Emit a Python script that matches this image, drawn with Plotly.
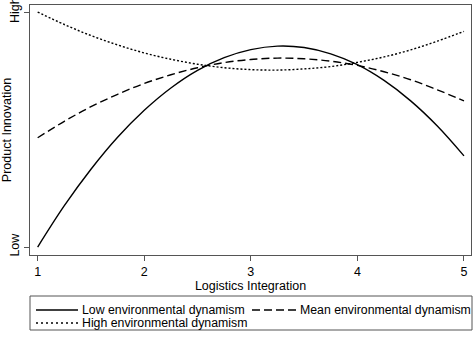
import plotly.graph_objects as go

x_vals = [1, 1.25, 1.5, 1.75, 2, 2.25, 2.5, 2.75, 3, 3.25, 3.5, 3.75, 4, 4.25, 4.5, 4.75, 5]
low_dyn = [0.0, 1.76, 3.31, 4.67, 5.82, 6.77, 7.52, 8.06, 8.40, 8.55, 8.49, 8.22, 7.76, 7.09, 6.22, 5.15, 3.88]
mean_dyn = [4.65, 5.35, 5.97, 6.50, 6.96, 7.33, 7.63, 7.85, 7.98, 8.04, 8.01, 7.91, 7.73, 7.46, 7.12, 6.69, 6.22]
high_dyn = [10.0, 9.47, 9.00, 8.60, 8.26, 7.99, 7.78, 7.63, 7.55, 7.53, 7.58, 7.68, 7.86, 8.09, 8.39, 8.76, 9.18]

series_names = ["Low environmental dynamism", "Mean environmental dynamism", "High environmental dynamism"]
x_ticks = [1, 2, 3, 4, 5]
y_tick_vals = [0, 10]
y_tick_text = ["Low", "High"]

FONT = "Liberation Sans, Arial, sans-serif"
FS = 12.5
FS_LEG = 12.3
W, H = 474, 339
ML, MR, MT, MB = 30, 3, 5, 84
PW, PH = W - ML - MR, H - MT - MB


def px(xp):
    return (xp - ML) / PW


def py(yp):
    return (H - MB - yp) / PH


fig = go.Figure()
styles = ["solid", "8px,4px", "2px,2px"]
for name, ys, dash in zip(series_names, [low_dyn, mean_dyn, high_dyn], styles):
    fig.add_trace(go.Scatter(x=x_vals, y=ys, mode="lines", name=name,
                             line=dict(color="black", width=1.4, dash=dash, shape="spline")))

axis_common = dict(showgrid=False, zeroline=False, showline=True, linecolor="#555555",
                   linewidth=1, mirror=True, ticks="outside", ticklen=5, tickcolor="#555555",
                   tickfont=dict(family=FONT, size=FS, color="black"),
                   ticklabeloverflow="allow", automargin=False)

# manual legend (box, sample lines, labels)
legend_dashes = ["solid", "8px,4px", "2px,3px"]
legend_pos = [(36, 78, 80, 310), (252, 298, 298, 310), (36, 78, 80, 323)]
shapes = [dict(type="rect", xref="paper", yref="paper", x0=px(30), x1=px(472), y0=py(296), y1=py(330),
               line=dict(color="#555555", width=1), fillcolor="rgba(0,0,0,0)", layer="above")]
annotations = []
for name, dash, (lx0, lx1, tx, ty) in zip(series_names, legend_dashes, legend_pos):
    shapes.append(dict(type="line", xref="paper", yref="paper", x0=px(lx0), x1=px(lx1),
                       y0=py(ty), y1=py(ty), line=dict(color="black", width=1.3, dash=dash)))
    annotations.append(dict(text=name, xref="paper", yref="paper", x=px(tx), y=py(ty),
                            xanchor="left", yanchor="middle", showarrow=False,
                            font=dict(family=FONT, size=FS_LEG, color="black")))

fig.update_layout(
    width=W, height=H,
    margin=dict(l=ML, r=MR, t=MT, b=MB),
    plot_bgcolor="white", paper_bgcolor="white",
    font=dict(family=FONT, size=FS, color="black"),
    xaxis=dict(range=[0.928, 5.066], tickvals=x_ticks,
               title=dict(text="Logistics Integration", font=dict(size=FS), standoff=0),
               **axis_common),
    yaxis=dict(range=[-0.34, 10.30], tickvals=y_tick_vals, ticktext=y_tick_text, tickangle=-90,
               title=dict(text="Product Innovation", font=dict(size=FS), standoff=0),
               **axis_common),
    showlegend=False,
    shapes=shapes,
    annotations=annotations,
)

fig.write_html("out.html")
